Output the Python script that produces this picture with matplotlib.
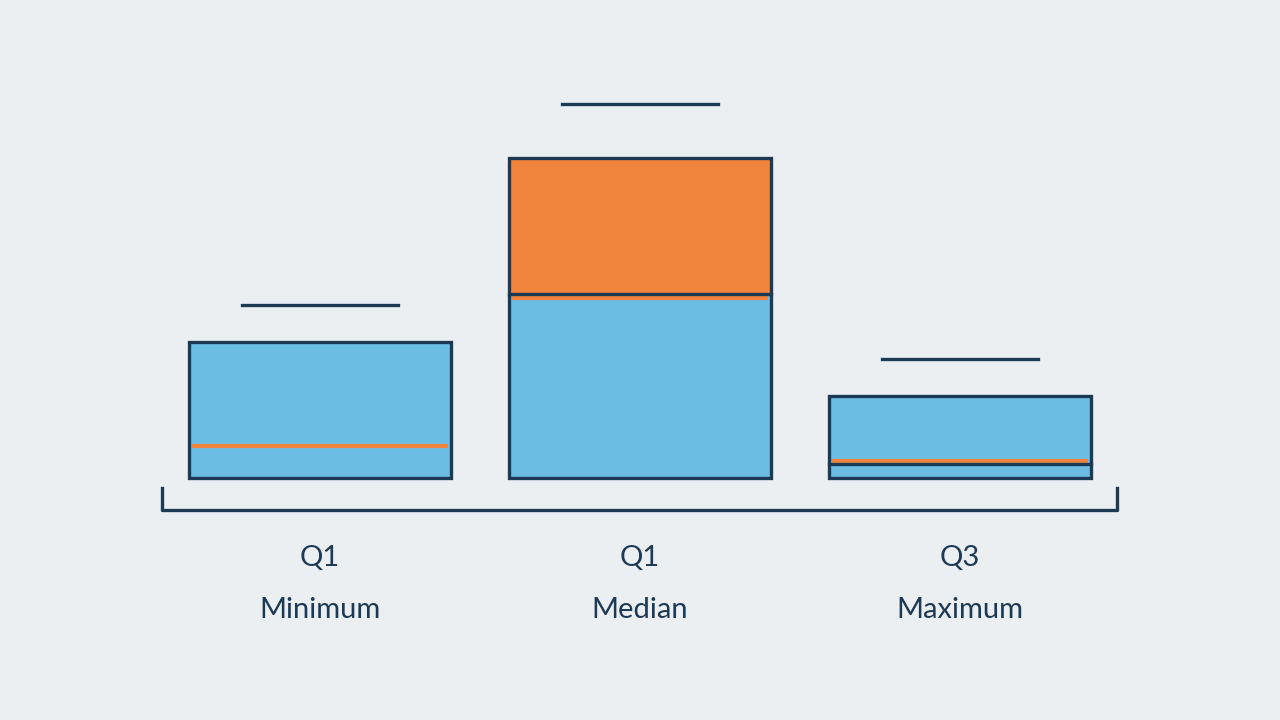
import matplotlib
matplotlib.use("Agg")
import matplotlib.pyplot as plt

categories = ["Q1\nMinimum", "Q1\nMedian", "Q3\nMaximum"]
blue_vals = [4.0, 5.4, 2.4]
orange_vals = [0.0, 4.0, 0.0]
cap_vals = [5.1, 11.0, 3.5]
orange_line = [0.94, 5.3, 0.5]
dark_line = [None, 5.4, 0.4]

navy = "#1d3a55"
blue = "#6cbde3"
orange = "#f0843c"
bg = "#eceff2"

fig = plt.figure(figsize=(12.8, 7.2), dpi=100, facecolor=bg)
ax = fig.add_axes([0, 0, 1, 1], facecolor=bg)
ax.set_xlim(-1, 3)
ax.set_ylim(-7.12, 14.06)
ax.axis("off")

x = list(range(len(categories)))
w = 0.82
ax.bar(x, blue_vals, w, color=blue, edgecolor="none", zorder=2)
ax.bar(x, orange_vals, w, bottom=blue_vals, color=orange, edgecolor="none", zorder=2)
tot = [b + o for b, o in zip(blue_vals, orange_vals)]
ax.bar(x, tot, w, fill=False, edgecolor=navy, linewidth=2.4, zorder=4)
for i in x:
    ax.plot([i - w/2 + 0.01, i + w/2 - 0.01], [orange_line[i]] * 2, color=orange, lw=3, zorder=3, solid_capstyle="butt")
    if dark_line[i] is not None:
        ax.plot([i - w/2, i + w/2], [dark_line[i]] * 2, color=navy, lw=2.4, zorder=3)
    ax.plot([i - 0.245, i + 0.245], [cap_vals[i]] * 2, color=navy, lw=2.4, zorder=3)
    q, name = categories[i].split("\n")
    ax.text(i, -2.35, q, ha="center", va="center", fontsize=21, color=navy, family="Lato")
    ax.text(i, -3.88, name, ha="center", va="center", fontsize=21, color=navy, family="Lato")

ax.plot([-0.494, -0.494, 2.49, 2.49], [-0.29, -0.94, -0.94, -0.29], color=navy, lw=2.4, zorder=3)

fig.savefig("out.png", dpi=100, facecolor=bg)
